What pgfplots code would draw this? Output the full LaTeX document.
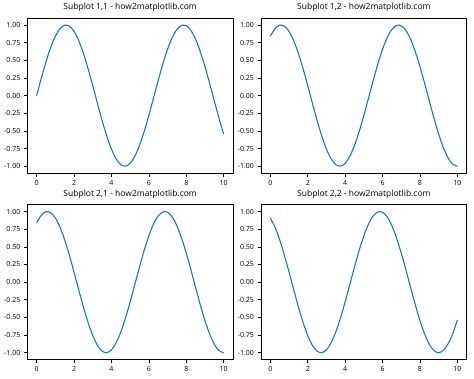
\documentclass[border=0pt]{standalone}
\usepackage{fontspec}
\setmainfont{Open Sans}
\usepackage{pgfplots}
\pgfplotsset{compat=1.18}
\definecolor{mplblue}{HTML}{1F77B4}
\pgfplotsset{myax/.style={
  scale only axis, width=205.7pt, height=155.3pt,
  xmin=-0.5, xmax=10.5, ymin=-1.1, ymax=1.1,
  xtick={0,2,4,6,8,10}, ytick={-1,-0.75,-0.5,-0.25,0,0.25,0.5,0.75,1},
  yticklabel style={/pgf/number format/.cd, fixed, fixed zerofill, precision=2},
  /pgf/number format/assume math mode=true,
  tick align=outside, tick pos=left, major tick length=3.5pt,
  tick style={black, line width=0.6pt},
  axis line style={line width=0.6pt},
  tick label style={font=\fontsize{7}{8}\selectfont},
  title style={font=\fontsize{8.5}{10}\selectfont, yshift=-3.5pt},
  anchor=south west
}}
\begin{document}
\begin{tikzpicture}
\begin{axis}[myax, at={(27.3pt,205.7pt)}, title={Subplot 1,1 - how2matplotlib.com}]
\addplot[mplblue, line width=1.1pt, smooth, no marks] coordinates {(0,0)(0.25,0.2474)(0.5,0.4794)(0.75,0.6816)(1,0.8415)(1.25,0.9490)(1.5,0.9975)(1.75,0.9840)(2,0.9093)(2.25,0.7781)(2.5,0.5985)(2.75,0.3817)(3,0.1411)(3.25,-0.1082)(3.5,-0.3508)(3.75,-0.5716)(4,-0.7568)(4.25,-0.8950)(4.5,-0.9775)(4.75,-0.9993)(5,-0.9589)(5.25,-0.8589)(5.5,-0.7055)(5.75,-0.5083)(6,-0.2794)(6.25,-0.0332)(6.5,0.2151)(6.75,0.4500)(7,0.6570)(7.25,0.8231)(7.5,0.9380)(7.75,0.9946)(8,0.9894)(8.25,0.9228)(8.5,0.7985)(8.75,0.6240)(9,0.4121)(9.25,0.1743)(9.5,-0.0752)(9.75,-0.3195)(10,-0.5440)};
\end{axis}
\begin{axis}[myax, at={(261pt,205.7pt)}, title={Subplot 1,2 - how2matplotlib.com}]
\addplot[mplblue, line width=1.1pt, smooth, no marks] coordinates {(0,0.8415)(0.25,0.9490)(0.5,0.9975)(0.75,0.9840)(1,0.9093)(1.25,0.7781)(1.5,0.5985)(1.75,0.3817)(2,0.1411)(2.25,-0.1082)(2.5,-0.3508)(2.75,-0.5716)(3,-0.7568)(3.25,-0.8950)(3.5,-0.9775)(3.75,-0.9993)(4,-0.9589)(4.25,-0.8589)(4.5,-0.7055)(4.75,-0.5083)(5,-0.2794)(5.25,-0.0332)(5.5,0.2151)(5.75,0.4500)(6,0.6570)(6.25,0.8231)(6.5,0.9380)(6.75,0.9946)(7,0.9894)(7.25,0.9228)(7.5,0.7985)(7.75,0.6240)(8,0.4121)(8.25,0.1743)(8.5,-0.0752)(8.75,-0.3195)(9,-0.5440)(9.25,-0.7346)(9.5,-0.8797)(9.75,-0.9705)(10,-1.0000)};
\end{axis}
\begin{axis}[myax, at={(27.3pt,19.2pt)}, title={Subplot 2,1 - how2matplotlib.com}]
\addplot[mplblue, line width=1.1pt, smooth, no marks] coordinates {(0,0.8415)(0.25,0.9490)(0.5,0.9975)(0.75,0.9840)(1,0.9093)(1.25,0.7781)(1.5,0.5985)(1.75,0.3817)(2,0.1411)(2.25,-0.1082)(2.5,-0.3508)(2.75,-0.5716)(3,-0.7568)(3.25,-0.8950)(3.5,-0.9775)(3.75,-0.9993)(4,-0.9589)(4.25,-0.8589)(4.5,-0.7055)(4.75,-0.5083)(5,-0.2794)(5.25,-0.0332)(5.5,0.2151)(5.75,0.4500)(6,0.6570)(6.25,0.8231)(6.5,0.9380)(6.75,0.9946)(7,0.9894)(7.25,0.9228)(7.5,0.7985)(7.75,0.6240)(8,0.4121)(8.25,0.1743)(8.5,-0.0752)(8.75,-0.3195)(9,-0.5440)(9.25,-0.7346)(9.5,-0.8797)(9.75,-0.9705)(10,-1.0000)};
\end{axis}
\begin{axis}[myax, at={(261pt,19.2pt)}, title={Subplot 2,2 - how2matplotlib.com}]
\addplot[mplblue, line width=1.1pt, smooth, no marks] coordinates {(0,0.9093)(0.25,0.7781)(0.5,0.5985)(0.75,0.3817)(1,0.1411)(1.25,-0.1082)(1.5,-0.3508)(1.75,-0.5716)(2,-0.7568)(2.25,-0.8950)(2.5,-0.9775)(2.75,-0.9993)(3,-0.9589)(3.25,-0.8589)(3.5,-0.7055)(3.75,-0.5083)(4,-0.2794)(4.25,-0.0332)(4.5,0.2151)(4.75,0.4500)(5,0.6570)(5.25,0.8231)(5.5,0.9380)(5.75,0.9946)(6,0.9894)(6.25,0.9228)(6.5,0.7985)(6.75,0.6240)(7,0.4121)(7.25,0.1743)(7.5,-0.0752)(7.75,-0.3195)(8,-0.5440)(8.25,-0.7346)(8.5,-0.8797)(8.75,-0.9705)(9,-1.0000)(9.25,-0.9661)(9.5,-0.8755)(9.75,-0.7331)(10,-0.5366)};
\end{axis}
\pgfresetboundingbox
\path[use as bounding box] (0pt,0pt) rectangle (474pt,379pt);
\end{tikzpicture}
\end{document}
